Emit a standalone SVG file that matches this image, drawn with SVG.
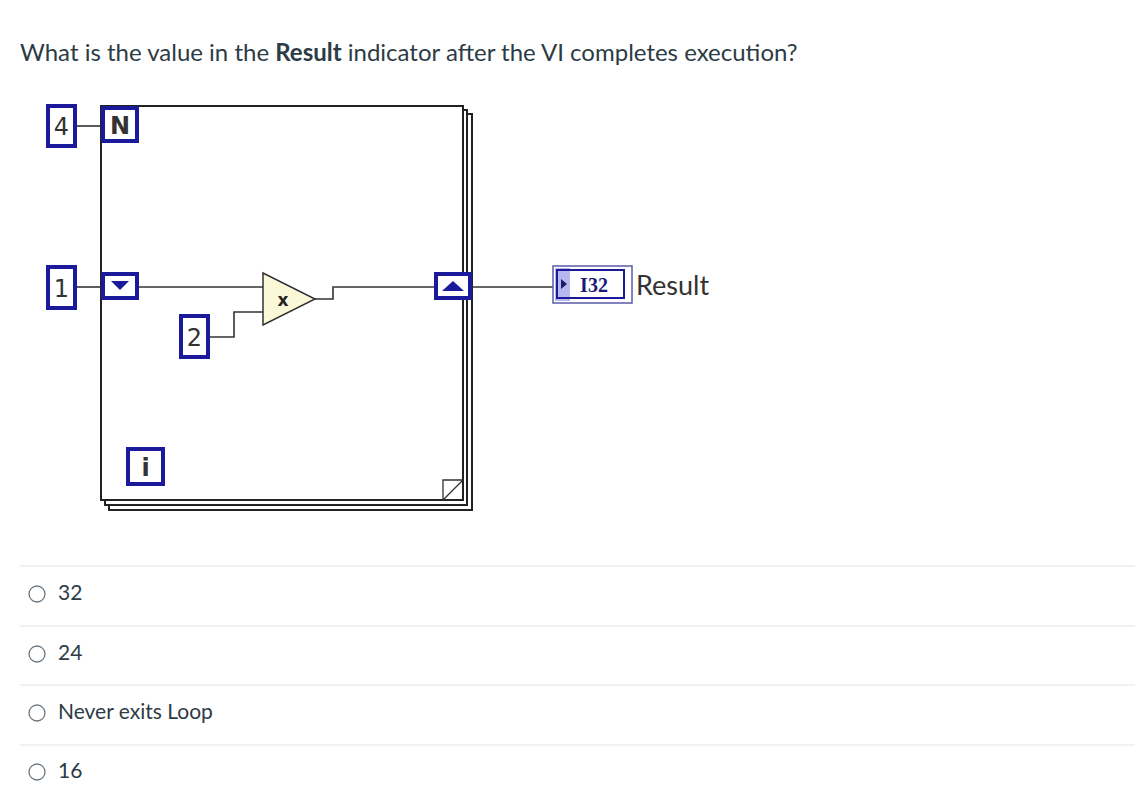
<svg xmlns="http://www.w3.org/2000/svg" width="1135" height="801" viewBox="0 0 1135 801">
<style>
.q{font-family:Lato,"Liberation Sans",sans-serif;font-size:24px;fill:#2d3b45}
.o{font-family:Lato,"Liberation Sans",sans-serif;font-size:21px;fill:#2d3b45}
.sep{stroke:#dfe3e6;stroke-width:1}
.rad{fill:#fff;stroke:#6b7780;stroke-width:1.3}
.frame{fill:#fff;stroke:#222;stroke-width:2}
.const{fill:#fff;stroke:#1a1a9a;stroke-width:4}
.ct{font-family:"DejaVu Sans",sans-serif;font-size:24px;fill:#333;text-anchor:middle}
.w{fill:none;stroke:#333;stroke-width:1.6}
</style>
<rect width="1135" height="801" fill="#fff"/>
<text class="q" x="20" y="61">What is the value in the <tspan font-weight="bold">Result</tspan> indicator after the VI completes execution?</text>
<g id="loop">
<rect class="frame" x="109" y="114" width="363" height="396"/>
<rect class="frame" x="105" y="110" width="362" height="395"/>
<rect class="frame" x="101" y="106" width="362" height="394"/>
<path d="M443 500 L443 480 L463 480 M443 500 L463 480" fill="none" stroke="#333" stroke-width="1.3"/>
</g>
<g id="connectors">
<path class="w" d="M76 126 H101"/>
<path class="w" d="M76 287 H101"/>
<path class="w" d="M139 287 H263"/>
<path class="w" d="M210 337 H234 V312 H263"/>
<path class="w" d="M315 299 H333 V287 H434"/>
<path class="w" d="M472 287 H553"/>
</g>
<g id="c4"><rect class="const" x="48" y="106" width="27" height="40"/><text class="ct" x="61.5" y="135">4</text></g>
<g id="n"><rect class="const" x="103" y="108" width="34" height="33"/><text class="ct" x="120" y="134" font-weight="bold" fill="#223">N</text></g>
<g id="c1"><rect class="const" x="48" y="267" width="27" height="41"/><text class="ct" x="61.5" y="297">1</text></g>
<g id="srl"><rect class="const" x="103" y="274" width="34" height="24"/><path d="M111 281 H129 L120 290 Z" fill="#1a1a9a"/></g>
<g id="c2"><rect class="const" x="181" y="316" width="27" height="41"/><text class="ct" x="194.5" y="346">2</text></g>
<g id="mul"><path d="M263 273 L315 299 L263 325 Z" fill="#fbf8d8" stroke="#333" stroke-width="1.5"/><text x="283" y="306" font-family="DejaVu Sans,sans-serif" font-size="17" font-weight="bold" fill="#222" text-anchor="middle">x</text></g>
<g id="srr"><rect class="const" x="436" y="274" width="34" height="24"/><path d="M442 291 H464 L453 281 Z" fill="#1a1a9a"/></g>
<g id="i"><rect class="const" x="128" y="449" width="35" height="35"/><text class="ct" x="145.5" y="476" font-weight="bold" fill="#222">i</text></g>
<g id="result">
<rect x="553" y="266" width="79" height="37" fill="#fff" stroke="#5a5aa8" stroke-width="1.5"/>
<rect x="555" y="268" width="15" height="33" fill="#b8b8f0"/>
<rect x="557" y="270" width="67" height="28" fill="none" stroke="#1a1a9a" stroke-width="2"/>
<path d="M561 279 L567 284 L561 289 Z" fill="#1a1a6a"/>
<text x="594" y="292" font-family="Liberation Serif,serif" font-size="20" font-weight="bold" fill="#1a1a7a" text-anchor="middle">I32</text>
<text x="636" y="295" font-family="Lato,'Liberation Sans',sans-serif" font-size="27" fill="#333">Result</text>
</g>
<line class="sep" x1="20" y1="566" x2="1135" y2="566"/>
<line class="sep" x1="20" y1="626" x2="1135" y2="626"/>
<line class="sep" x1="20" y1="685" x2="1135" y2="685"/>
<line class="sep" x1="20" y1="745" x2="1135" y2="745"/>
<circle class="rad" cx="37" cy="594" r="8"/><text class="o" x="58" y="600">32</text>
<circle class="rad" cx="37" cy="654" r="8"/><text class="o" x="58" y="660">24</text>
<circle class="rad" cx="37" cy="713" r="8"/><text class="o" x="58" y="719">Never exits Loop</text>
<circle class="rad" cx="37" cy="772" r="8"/><text class="o" x="58" y="778">16</text>
</svg>
